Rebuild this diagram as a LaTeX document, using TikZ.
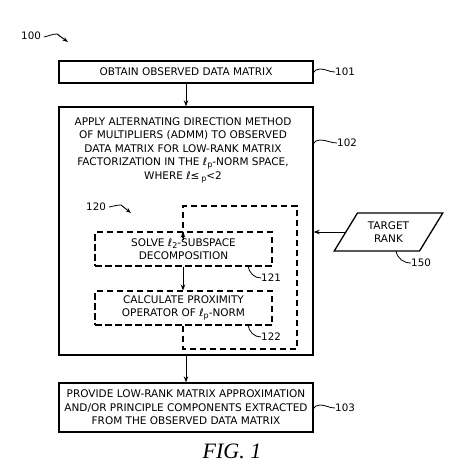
\documentclass[tikz,border=0pt]{standalone}
\usepackage{fontspec}
\setmainfont{DejaVu Sans}
\newfontfamily\figfont{Liberation Serif}
\usetikzlibrary{arrows.meta,shapes.geometric}
\newcommand\lsb[1]{ℓ\raisebox{-0.35ex}{\footnotesize #1}}
\begin{document}
\begin{tikzpicture}[x=1pt,y=-1pt,
  every node/.style={font=\fontsize{10.5}{13.5}\selectfont, inner sep=0pt},
  solidbox/.style={draw, line width=1.3pt, rectangle, align=center},
  dashbox/.style={draw, line width=1.1pt, rectangle, align=center, dash pattern=on 6.5pt off 3.5pt},
  flow/.style={line width=1pt, -{Stealth[length=6pt,width=4.5pt]}},
  dflow/.style={line width=1.1pt, dash pattern=on 6.5pt off 3.5pt},
  leader/.style={line width=0.8pt},
  reflab/.style={font=\fontsize{10.3}{12}\selectfont, anchor=west},
  tip/.style={line width=1pt, -{Stealth[length=5.5pt,width=4pt]}}]
\useasboundingbox (0,0) rectangle (474,476);

% boxes
\node[solidbox, minimum width=254pt, minimum height=22pt] (b101) at (186,72) {OBTAIN OBSERVED DATA MATRIX};
\node[solidbox, minimum width=254pt, minimum height=248pt] (b102) at (186,231) {};
\node[align=center] (t102) at (183,150) {APPLY ALTERNATING DIRECTION METHOD\\OF MULTIPLIERS (ADMM) TO OBSERVED\\DATA MATRIX FOR LOW-RANK MATRIX\\FACTORIZATION IN THE \lsb{p}-NORM SPACE,\\WHERE ℓ≤\,\raisebox{-0.35ex}{\footnotesize p}<2};
\node[solidbox, minimum width=254pt, minimum height=49pt] (b103) at (186,407.5) {PROVIDE LOW-RANK MATRIX APPROXIMATION\\AND/OR PRINCIPLE COMPONENTS EXTRACTED\\FROM THE OBSERVED DATA MATRIX};

\node[dashbox, minimum width=177pt, minimum height=34pt] (b121) at (183.5,249) {SOLVE \lsb{2}-SUBSPACE\\DECOMPOSITION};
\node[dashbox, minimum width=177pt, minimum height=34pt] (b122) at (183.5,308) {CALCULATE PROXIMITY\\OPERATOR OF \lsb{p}-NORM};

\node[draw, line width=1.3pt, trapezium, trapezium left angle=54, trapezium right angle=126,
      trapezium stretches=true, minimum width=109pt, minimum height=38pt, align=center] (tr) at (388.5,232) {TARGET\\RANK};

% connectors
\coordinate (b101s) at (186,83);
\draw[flow] (b101.south -| b101s) -- (b102.north -| b101s);
\draw[flow] (b102.south -| b101s) -- (b103.north -| b101s);
\draw[flow] (b121.south -| t102) -- (b122.north -| t102);
\coordinate (lb) at (183,349);
\coordinate (rb) at (297,349);
\coordinate (rt) at (297,206);
\coordinate (lt) at (183,206);
\draw[dflow] (b122.south -| lb) -- (lb) -- (rb) -- (rt) -- (lt) -- ([yshift=-8pt]b121.north -| lt);
\draw[flow] ([yshift=-9pt]b121.north -| lt) -- (b121.north -| lt);
\draw[flow] (tr.west) -- (tr.west -| b102.east);

% reference labels
\node[reflab] (l100) at (21,36) {100};
\draw[leader] (l100.east) ++(3,1) to[out=10,in=180] (57,34);
\draw[tip] (57,34) -- (68,42);
\node[reflab] (l120) at (86,207) {120};
\draw[leader] (l120.east) ++(3,0) to[out=10,in=180] (121,205);
\draw[tip] (121,205) -- (131,213);

\node[reflab] (l101) at (335,72) {101};
\draw[leader] (313,73) to[out=60,in=180] (320,69) to[out=0,in=180] (l101.west);
\node[reflab] (l102) at (337,143) {102};
\draw[leader] (313,144) to[out=60,in=180] (320,140) to[out=0,in=180] (l102.west);
\node[reflab] (l103) at (335,408) {103};
\draw[leader] (313,409) to[out=60,in=180] (320,405) to[out=0,in=180] (l103.west);

\node[reflab] (l121) at (261,278) {121};
\draw[leader] (248,266) to[out=-80,in=180] (l121.west);
\node[reflab] (l122) at (261,337) {122};
\draw[leader] (248,325) to[out=-80,in=180] (l122.west);
\node[reflab] (l150) at (411,263) {150};
\draw[leader] (396,251) to[out=-80,in=180] (l150.west);

\node[font=\figfont\itshape\fontsize{22}{24}\selectfont] (fig) at (232,451) {FIG. 1};
\end{tikzpicture}
\end{document}
